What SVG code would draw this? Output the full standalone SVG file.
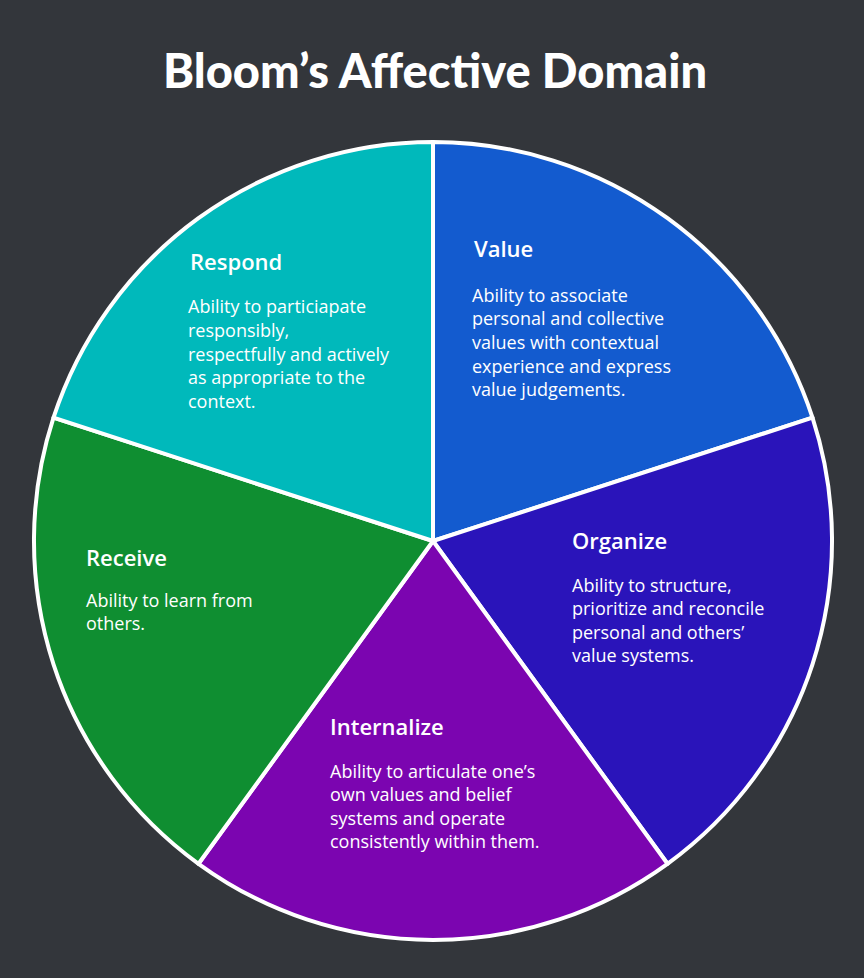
<svg xmlns="http://www.w3.org/2000/svg" width="864" height="978" viewBox="0 0 864 978">
<style>
.s{stroke:#fff;stroke-width:4;stroke-linejoin:round}
.h{font-family:"Open Sans",sans-serif;font-size:22px;font-weight:600;fill:#fff}
.t{font-family:"Open Sans",sans-serif;font-size:18px;fill:#fff}
</style>
<rect width="864" height="978" fill="#33363b"/>
<text x="435" y="88" text-anchor="middle" font-family="Lato,sans-serif" font-weight="900" font-size="47" fill="#fff">Bloom’s Affective Domain</text>
<g id="value"><path class="s" fill="#135bcf" d="M433,541 L433,142 A399,399 0 0 1 812.5,417.7 Z"/>
<text class="h" x="474" y="257">Value</text>
<text class="t"><tspan x="472" y="302">Ability to associate</tspan><tspan x="472" y="325">personal and collective</tspan><tspan x="472" y="349">values with contextual</tspan><tspan x="472" y="373">experience and express</tspan><tspan x="472" y="396">value judgements.</tspan></text></g>
<g id="organize"><path class="s" fill="#2a14ba" d="M433,541 L812.5,417.7 A399,399 0 0 1 667.5,863.8 Z"/>
<text class="h" x="572" y="549">Organize</text>
<text class="t"><tspan x="572" y="592">Ability to structure,</tspan><tspan x="572" y="615">prioritize and reconcile</tspan><tspan x="572" y="639">personal and others’</tspan><tspan x="572" y="662">value systems.</tspan></text></g>
<g id="internalize"><path class="s" fill="#7b05b0" d="M433,541 L667.5,863.8 A399,399 0 0 1 198.5,863.8 Z"/>
<text class="h" x="330" y="735">Internalize</text>
<text class="t"><tspan x="330" y="778">Ability to articulate one’s</tspan><tspan x="330" y="801">own values and belief</tspan><tspan x="330" y="825">systems and operate</tspan><tspan x="330" y="848">consistently within them.</tspan></text></g>
<g id="receive"><path class="s" fill="#0f8e31" d="M433,541 L198.5,863.8 A399,399 0 0 1 53.5,417.7 Z"/>
<text class="h" x="86" y="566">Receive</text>
<text class="t"><tspan x="86" y="607">Ability to learn from</tspan><tspan x="86" y="630">others.</tspan></text></g>
<g id="respond"><path class="s" fill="#00b9bb" d="M433,541 L53.5,417.7 A399,399 0 0 1 433,142 Z"/>
<text class="h" x="190" y="270">Respond</text>
<text class="t"><tspan x="188" y="313">Ability to particiapate</tspan><tspan x="188" y="337">responsibly,</tspan><tspan x="188" y="361">respectfully and actively</tspan><tspan x="188" y="384">as appropriate to the</tspan><tspan x="188" y="408">context.</tspan></text></g>
<g id="connectors"/>
</svg>
